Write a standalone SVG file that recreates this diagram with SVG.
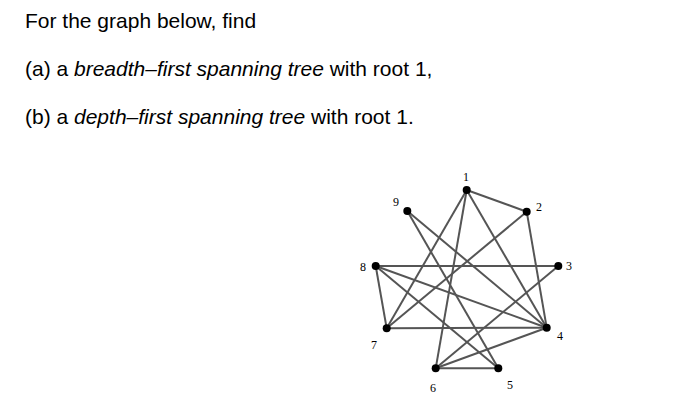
<svg xmlns="http://www.w3.org/2000/svg" width="700" height="414" viewBox="0 0 700 414">
<style>
.t{font-family:"Liberation Sans",Arial,sans-serif;font-size:21px;fill:#000}
.l{font-family:"Liberation Serif","Times New Roman",serif;font-size:12px;fill:#000}
.e{stroke:#555;stroke-width:2;fill:none}
.n{fill:#000}
</style>
<rect width="700" height="414" fill="#fff"/>
<text class="t" x="25" y="28">For the graph below, find</text>
<text class="t" x="25" y="76">(a) a <tspan font-style="italic">breadth–first spanning tree</tspan> with root 1,</text>
<text class="t" x="25" y="124">(b) a <tspan font-style="italic">depth–first spanning tree</tspan> with root 1.</text>
<g id="edges">
<line class="e" x1="466.7" y1="190" x2="526.7" y2="211.7"/>
<line class="e" x1="466.7" y1="190" x2="386.7" y2="328.3"/>
<line class="e" x1="466.7" y1="190" x2="435.7" y2="368.3"/>
<line class="e" x1="466.7" y1="190" x2="546.7" y2="327.7"/>
<line class="e" x1="526.7" y1="211.7" x2="386.7" y2="328.3"/>
<line class="e" x1="526.7" y1="211.7" x2="546.7" y2="327.7"/>
<line class="e" x1="407.3" y1="211" x2="546.7" y2="327.7"/>
<line class="e" x1="407.3" y1="211" x2="498.3" y2="368.3"/>
<line class="e" x1="375.7" y1="266" x2="558.3" y2="266"/>
<line class="e" x1="375.7" y1="266" x2="386.7" y2="328.3"/>
<line class="e" x1="375.7" y1="266" x2="546.7" y2="327.7"/>
<line class="e" x1="375.7" y1="266" x2="498.3" y2="368.3"/>
<line class="e" x1="386.7" y1="328.3" x2="546.7" y2="327.7"/>
<line class="e" x1="558.3" y1="266" x2="435.7" y2="368.3"/>
<line class="e" x1="546.7" y1="327.7" x2="435.7" y2="368.3"/>
<line class="e" x1="435.7" y1="368.3" x2="498.3" y2="368.3"/>
</g>
<g id="n1"><circle class="n" cx="466.7" cy="190" r="4"/><text class="l" x="463" y="181">1</text></g>
<g id="n2"><circle class="n" cx="526.7" cy="211.7" r="4"/><text class="l" x="536" y="211">2</text></g>
<g id="n3"><circle class="n" cx="558.3" cy="266" r="4"/><text class="l" x="566" y="270">3</text></g>
<g id="n4"><circle class="n" cx="546.7" cy="327.7" r="4"/><text class="l" x="557" y="340">4</text></g>
<g id="n5"><circle class="n" cx="498.3" cy="368.3" r="4"/><text class="l" x="507" y="389">5</text></g>
<g id="n6"><circle class="n" cx="435.7" cy="368.3" r="4"/><text class="l" x="430" y="392">6</text></g>
<g id="n7"><circle class="n" cx="386.7" cy="328.3" r="4"/><text class="l" x="371" y="349">7</text></g>
<g id="n8"><circle class="n" cx="375.7" cy="266" r="4"/><text class="l" x="360" y="271">8</text></g>
<g id="n9"><circle class="n" cx="407.3" cy="211" r="4"/><text class="l" x="393" y="206">9</text></g>
</svg>
